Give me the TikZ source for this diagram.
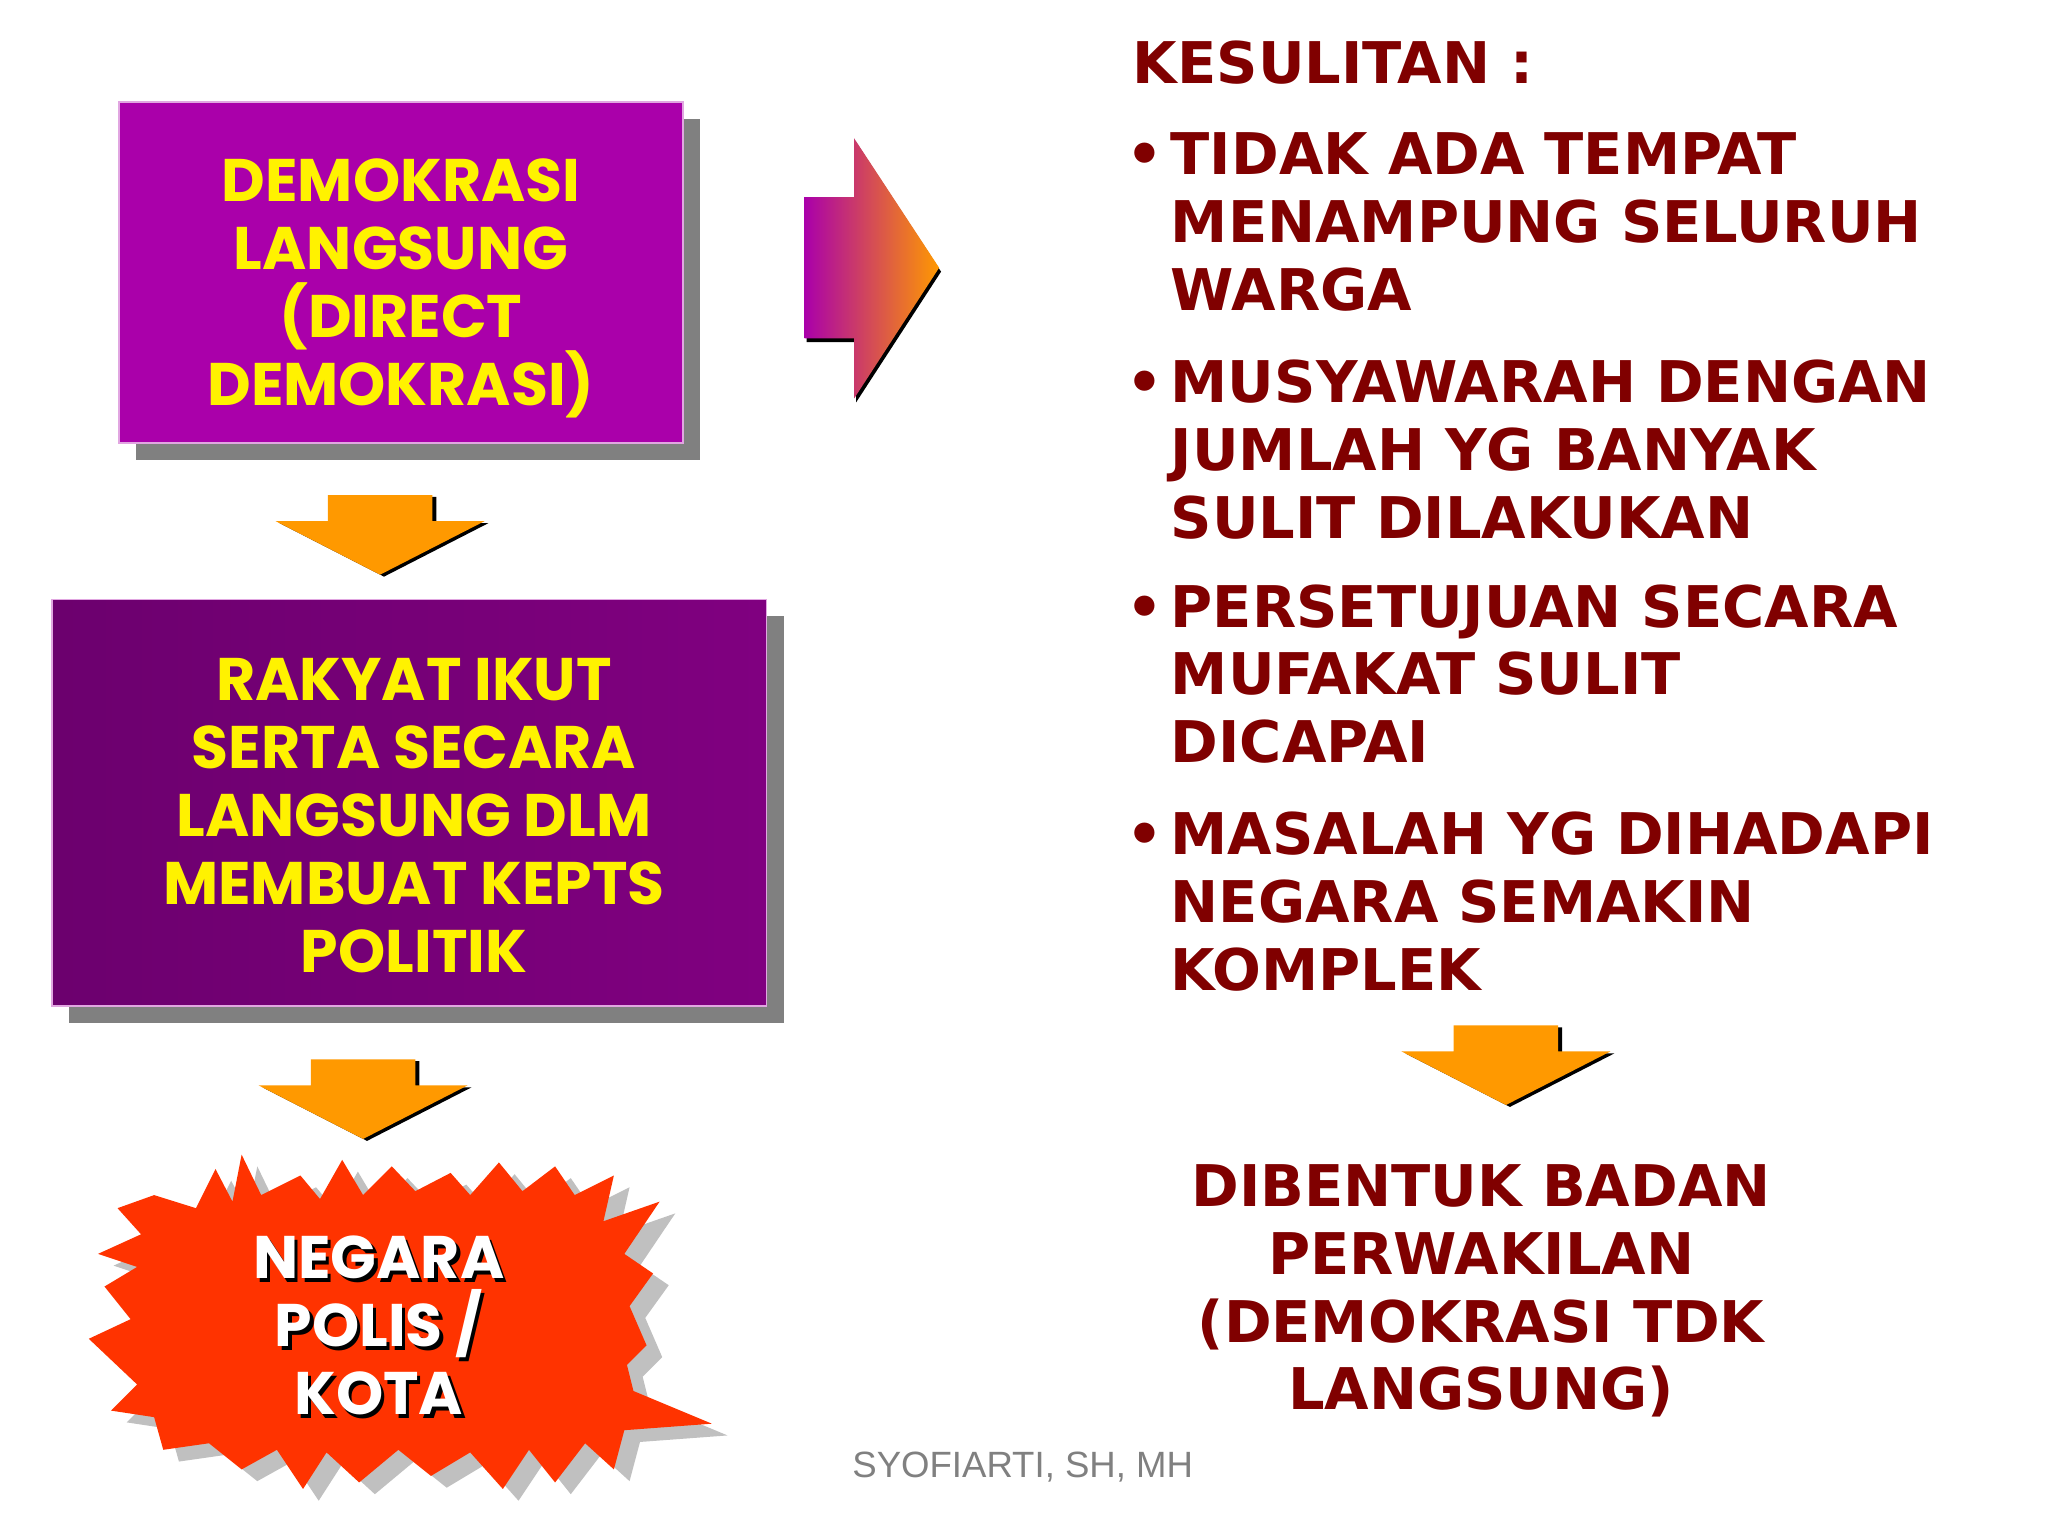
\documentclass[tikz,border=0pt]{standalone}
\usepackage{fontspec}
\usepackage{xcolor}
\usepackage{tikz}
\usetikzlibrary{shadows}

\newfontfamily\verdana{DejaVu Sans}
\newfontfamily\komik{Poppins}
\newfontfamily\arial{Liberation Sans}

\definecolor{ungu}{RGB}{170,0,170}
\definecolor{ungutua}{RGB}{128,0,128}
\definecolor{ungugelap}{RGB}{108,0,110}
\definecolor{oranye}{RGB}{255,153,0}
\definecolor{merah}{RGB}{128,0,0}
\definecolor{merahapi}{RGB}{255,51,0}
\definecolor{abu}{RGB}{128,128,128}
\definecolor{abumuda}{RGB}{192,192,192}

\newcommand{\bentukpanah}{(-40,0) -- (40,0) -- (40,20) -- (80,20) -- (0,61) -- (-80,20) -- (-40,20) -- cycle}
\newcommand{\bentukkanan}{(616,151) -- (654,151) -- (654,106) -- (719,205) -- (654,305) -- (654,259) -- (616,259) -- cycle}
\newcommand{\bentukledak}{(118,915) -- (150,925) -- (165,895) -- (178,920) -- (185,884) -- (200,915) -- (230,900) -- (245,918) -- (262,888) -- (278,915) -- (300,893) -- (318,912) -- (345,898) -- (360,915) -- (382,890) -- (400,912) -- (425,893) -- (440,915) -- (470,900) -- (462,935) -- (505,920) -- (478,960) -- (500,975) -- (482,1000) -- (495,1030) -- (480,1045) -- (485,1065) -- (545,1090) -- (478,1095) -- (470,1125) -- (448,1105) -- (425,1135) -- (405,1110) -- (385,1140) -- (360,1112) -- (330,1130) -- (305,1110) -- (275,1135) -- (250,1112) -- (232,1140) -- (212,1110) -- (185,1125) -- (160,1105) -- (125,1110) -- (118,1085) -- (85,1080) -- (105,1060) -- (68,1025) -- (100,1010) -- (80,985) -- (105,970) -- (75,960) -- (108,945) -- (90,925) -- cycle}

\tikzset{
    kotak/.style={draw=white!65!ungu, line width=0.6pt, inner sep=0pt,
        drop shadow={shadow xshift=6.5pt, shadow yshift=-6.5pt, fill=abu, opacity=1}},
    tulisbox/.style={text=yellow, font={\komik\bfseries\fontsize{23}{26}\selectfont}, align=center, inner sep=0pt},
    tulisledak/.style={font={\komik\bfseries\fontsize{23}{26}\selectfont}, align=center, inner sep=0pt},
    tulismerah/.style={text=merah, font={\verdana\bfseries\fontsize{22}{26}\selectfont}, inner sep=0pt}
}

\begin{document}
\begin{tikzpicture}[x=0.5pt,y=-0.5pt]
    \useasboundingbox[fill=white] (0,0) rectangle (1568,1176);

    \node[kotak, fill=ungu, minimum width=216pt, minimum height=130.5pt] (langsung) at (307,208.5) {};
    \node[tulisbox] (langsungTeks) at (307,221) {DEMOKRASI\\LANGSUNG\\(DIRECT\\DEMOKRASI)};

    \node[kotak, left color=ungugelap, right color=ungutua, minimum width=273.5pt, minimum height=155.5pt] (rakyat) at (313.5,614.5) {};
    \node[tulisbox] (rakyatTeks) at (317,624.5) {RAKYAT IKUT\\SERTA SECARA\\LANGSUNG DLM\\MEMBUAT KEPTS\\POLITIK};

    \fill[black, shift={(294,380.5)}] \bentukpanah;
    \fill[oranye, shift={(291,379)}] \bentukpanah;
    \fill[black, shift={(281,812.5)}] \bentukpanah;
    \fill[oranye, shift={(278,811)}] \bentukpanah;
    \fill[black, shift={(1156,786.5)}] \bentukpanah;
    \fill[oranye, shift={(1153,785)}] \bentukpanah;

    \fill[black, shift={(1.5,3)}] \bentukkanan;
    \shade[left color=ungu, right color=oranye] \bentukkanan;

    \fill[abumuda, shift={(12,9)}] \bentukledak;
    \fill[merahapi] \bentukledak;
    \node[tulisledak, text=black] (negaraBayang) at (292.5,1017.5) {NEGARA\\POLIS /\\KOTA};
    \node[tulisledak, text=white] (negara) at (290,1015) {NEGARA\\POLIS /\\KOTA};

    \node[tulismerah, anchor=base west] (kesulitan) at (867,64) {KESULITAN :};
    \node[tulismerah, align=left, anchor=north west] (tempat) at (896,101) {\llap{\textbullet\hspace{3pt}}TIDAK ADA TEMPAT\\MENAMPUNG SELURUH\\WARGA};
    \node[tulismerah, align=left, anchor=north west] (musyawarah) at (896,275) {\llap{\textbullet\hspace{3pt}}MUSYAWARAH DENGAN\\JUMLAH YG BANYAK\\SULIT DILAKUKAN};
    \node[tulismerah, align=left, anchor=north west] (mufakat) at (896,447) {\llap{\textbullet\hspace{3pt}}PERSETUJUAN SECARA\\MUFAKAT SULIT\\DICAPAI};
    \node[tulismerah, align=left, anchor=north west] (masalah) at (896,621) {\llap{\textbullet\hspace{3pt}}MASALAH YG DIHADAPI\\NEGARA SEMAKIN\\KOMPLEK};

    \node[tulismerah, align=center, anchor=north] (perwakilan) at (1134,891) {DIBENTUK BADAN\\PERWAKILAN\\(DEMOKRASI TDK\\LANGSUNG)};

    \node[font={\arial\fontsize{14}{16}\selectfont}, text=abu, anchor=base, inner sep=0pt] (penulis) at (783,1131) {SYOFIARTI, SH, MH};
\end{tikzpicture}
\end{document}
